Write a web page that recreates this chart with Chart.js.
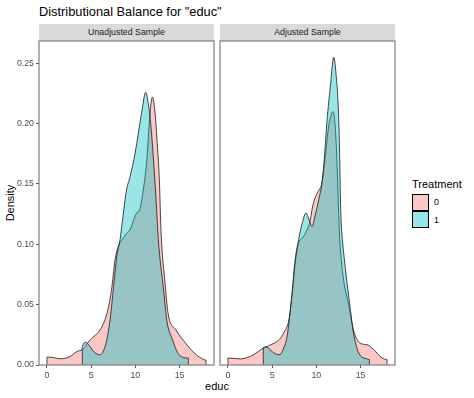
<!DOCTYPE html>
<html>
<head>
<meta charset="utf-8">
<script src="https://cdn.jsdelivr.net/npm/chart.js@4/dist/chart.umd.min.js"></script>
<style>
  body { margin: 0; width: 474px; height: 398px; background: #fff; position: relative; overflow: hidden;
         font-family: "Liberation Sans", Arial, sans-serif; color: #000; }
  .abs { position: absolute; white-space: nowrap; }
  canvas { position: absolute; top: 0; }
  .strip { position: absolute; top: 24px; height: 17px; background: #d9d9d9; color: #1a1a1a;
           font-size: 8.8px; line-height: 17px; text-align: center; }
  .key { position: absolute; left: 412px; width: 17px; height: 17.5px; box-sizing: border-box; border: 1px solid #000; }
</style>
</head>
<body>
<div class="abs" style="left:39px;top:3.6px;font-size:12.8px;line-height:16px;">Distributional Balance for "educ"</div>
<div class="strip" style="left:39px;width:175px;">Unadjusted Sample</div>
<div class="strip" style="left:220px;width:175px;">Adjusted Sample</div>
<div class="abs" style="left:-20px;top:196px;width:60px;text-align:center;font-size:11px;line-height:14px;transform:rotate(-90deg);">Density</div>
<div class="abs" style="left:187px;top:379px;width:60px;text-align:center;font-size:11px;line-height:14px;">educ</div>

<div class="abs" style="left:412px;top:177px;font-size:11px;line-height:14px;">Treatment</div>
<div class="key" style="top:193.5px;background:rgb(252,200,197);"></div>
<div class="key" style="top:210.5px;background:rgb(153,229,231);"></div>
<div class="abs" style="left:434px;top:196px;font-size:8.8px;line-height:12px;">0</div>
<div class="abs" style="left:434px;top:213.5px;font-size:8.8px;line-height:12px;">1</div>

<canvas id="unadj" width="216" height="398" style="left:0;"></canvas>
<canvas id="adj" width="183" height="398" style="left:214px;"></canvas>

<script>
// educ grid and densities
const unadjX0 = [0, 0, 0.7, 1.5, 2.2, 2.8, 3.4, 4.0, 4.9, 6.0, 6.8, 7.3, 7.7, 8.1, 8.5, 9.0, 9.4, 9.8, 10.15, 10.5, 10.9, 11.3, 11.66, 11.93, 12.23, 12.5, 12.72, 12.9, 13.36, 13.7, 14.6, 15.7, 16.65, 17.5, 18, 18];
const unadjD0 = [0, 0.0066, 0.0062, 0.0052, 0.0058, 0.0078, 0.0113, 0.0127, 0.021, 0.029, 0.043, 0.062, 0.087, 0.099, 0.104, 0.109, 0.112, 0.12, 0.126, 0.129, 0.145, 0.17, 0.209, 0.222, 0.209, 0.181, 0.153, 0.112, 0.068, 0.043, 0.029, 0.018, 0.010, 0.0055, 0.004, 0];
const unadjX1 = [4, 4, 4.3, 4.7, 5.3, 6.0, 6.6, 7.1, 7.5, 7.9, 8.27, 8.6, 9.0, 9.4, 9.97, 10.7, 11.17, 11.5, 11.8, 12.1, 12.4, 12.6, 13.2, 13.55, 14.2, 14.95, 16, 16];
const unadjD1 = [0, 0.016, 0.019, 0.017, 0.011, 0.0085, 0.016, 0.035, 0.062, 0.090, 0.104, 0.123, 0.145, 0.156, 0.1755, 0.2086, 0.226, 0.215, 0.195, 0.165, 0.13, 0.104, 0.062, 0.0375, 0.021, 0.0085, 0.0058, 0];

const adjX0 = [0, 0, 1.4, 2.2, 2.9, 4.0, 5.2, 5.8, 6.3, 6.9, 7.25, 7.6, 8.0, 8.5, 9.0, 9.3, 9.6, 10.0, 10.3, 10.6, 11.0, 11.4, 11.9, 12.2, 12.4, 12.55, 12.65, 13.0, 13.7, 14.2, 14.97, 15.74, 16.5, 17.25, 18, 18];
const adjD0 = [0, 0.0058, 0.005, 0.0062, 0.0085, 0.014, 0.018, 0.021, 0.0265, 0.0375, 0.057, 0.084, 0.101, 0.106, 0.113, 0.12, 0.132, 0.141, 0.145, 0.15, 0.172, 0.198, 0.21, 0.19, 0.155, 0.12, 0.104, 0.075, 0.0485, 0.029, 0.018, 0.0168, 0.0127, 0.007, 0.0044, 0];
const adjX1 = [4, 4, 4.3, 4.8, 5.3, 5.85, 6.3, 6.7, 7.25, 7.6, 8.0, 8.4, 8.83, 9.2, 9.5, 9.9, 10.3, 10.64, 10.9, 11.2, 11.6, 11.96, 12.27, 12.5, 12.65, 12.72, 12.8, 12.95, 13.35, 13.85, 14.2, 14.8, 15.74, 16, 16];
const adjD1 = [0, 0.0146, 0.015, 0.0125, 0.0095, 0.0085, 0.014, 0.024, 0.06, 0.087, 0.104, 0.1175, 0.126, 0.12, 0.1147, 0.125, 0.138, 0.151, 0.171, 0.2017, 0.232, 0.255, 0.2376, 0.21, 0.17, 0.14, 0.12, 0.104, 0.076, 0.046, 0.0265, 0.01, 0.005, 0.0045, 0];

const xTicks = [0, 5, 10, 15];
const yTicks = [0, 0.05, 0.10, 0.15, 0.20, 0.25];

Chart.defaults.font.family = '"Liberation Sans", Arial, sans-serif';

const toPoints = (xs, ys) => xs.map((x, i) => ({ x: x, y: ys[i] }));

// ggplot style panel border
const panelBorder = {
  id: 'panelBorder',
  afterDatasetsDraw(chart) {
    const { ctx, chartArea: a } = chart;
    ctx.save();
    ctx.strokeStyle = '#7f7f7f';
    ctx.lineWidth = 1.2;
    ctx.strokeRect(a.left, a.top, a.right - a.left, a.bottom - a.top);
    ctx.restore();
  }
};

function densitySet(xs, ys, color) {
  return {
    data: toPoints(xs, ys),
    backgroundColor: color,
    borderColor: '#1a1a1a',
    borderWidth: 0.8,
    pointRadius: 0,
    fill: 'origin',
    cubicInterpolationMode: 'monotone'
  };
}

function drawPanel(id, x0, d0, x1, d1, showY, pad) {
  new Chart(document.getElementById(id), {
    type: 'line',
    data: {
      // teal first so it is drawn over pink, as in the original
      datasets: [
        densitySet(x1, d1, 'rgba(0,191,196,0.4)'),
        densitySet(x0, d0, 'rgba(248,118,109,0.4)')
      ]
    },
    options: {
      responsive: false,
      animation: false,
      layout: { padding: pad },
      plugins: { legend: { display: false }, tooltip: { enabled: false } },
      scales: {
        x: {
          type: 'linear', min: -0.9, max: 18.9,
          afterBuildTicks: s => { s.ticks = xTicks.map(v => ({ value: v })); },
          afterFit: s => { s.height = 33; },
          grid: { display: true, drawOnChartArea: false, drawTicks: true, tickLength: 3, color: '#555' },
          border: { display: false },
          ticks: { color: '#4d4d4d', font: { size: 8.8 }, padding: 2, maxRotation: 0, autoSkip: false }
        },
        y: {
          display: showY,
          min: 0, max: 0.2685,
          afterBuildTicks: s => { s.ticks = yTicks.map(v => ({ value: v })); },
          afterFit: s => { s.width = showY ? 39 : 0; },
          grid: { display: true, drawOnChartArea: false, drawTicks: true, tickLength: 3, color: '#555' },
          border: { display: false },
          ticks: { color: '#4d4d4d', font: { size: 8.8 }, padding: 2, callback: v => v.toFixed(2) }
        }
      }
    },
    plugins: [panelBorder]
  });
}

drawPanel('unadj', unadjX0, unadjD0, unadjX1, unadjD1, true, { top: 41, right: 2, bottom: 0, left: 0 });
drawPanel('adj', adjX0, adjD0, adjX1, adjD1, false, { top: 41, right: 2, bottom: 0, left: 6 });
</script>
</body>
</html>
